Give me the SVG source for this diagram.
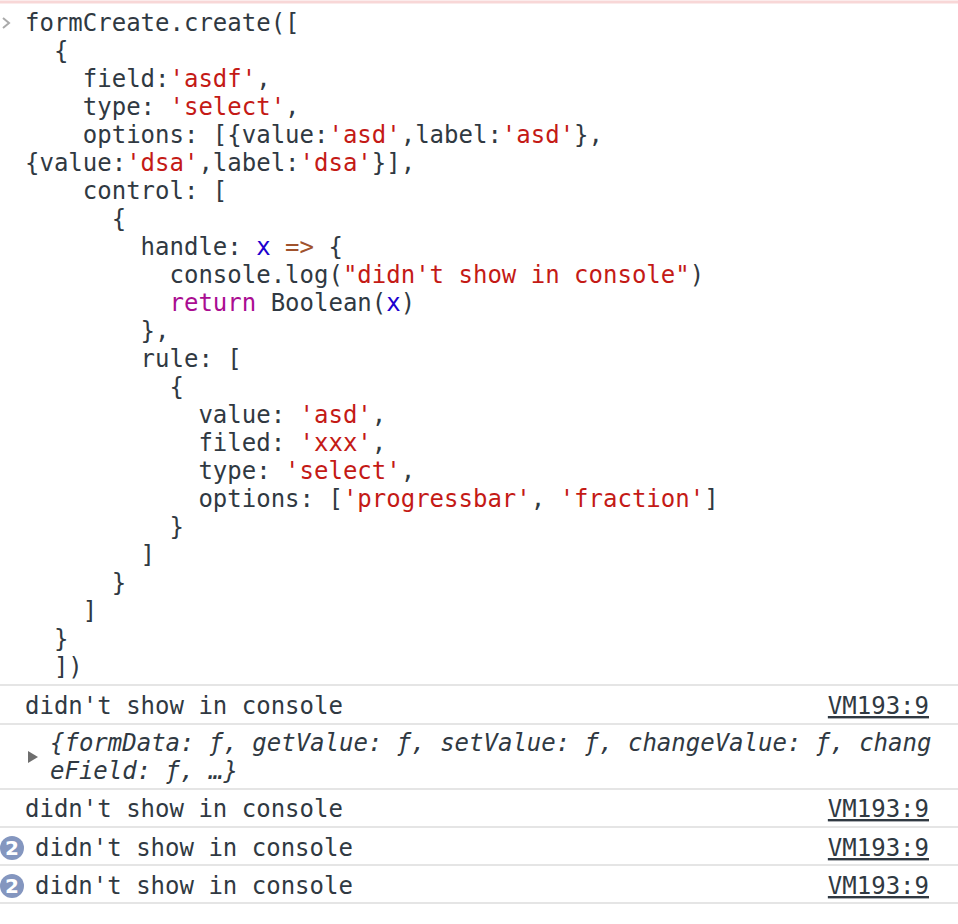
<svg xmlns="http://www.w3.org/2000/svg" width="958" height="924" viewBox="0 0 958 924">
<style>
text{font-family:"DejaVu Sans Mono",monospace;font-size:24px;fill:#303942;white-space:pre}
.s{fill:#c41a16}.k{fill:#aa0d91}.v{fill:#1c00cf}.o{fill:#a0522d}
.sep{stroke:#e5e5e5;stroke-width:2}
.vm{text-anchor:end;text-decoration:underline}
.it{font-style:italic}
.b{fill:#8496bf}.bt{fill:#fff;font-family:"DejaVu Sans",sans-serif;font-size:20px;font-weight:bold;text-anchor:middle}
</style>
<rect width="958" height="924" fill="#fff"/>
<line x1="0" y1="2" x2="958" y2="2" stroke="#f8d7d7" stroke-width="3"/>
<g id="input">
<path d="M3 18 L9 23 L3 28" fill="none" stroke="#aaa" stroke-width="2"/>
<text x="25" y="31">formCreate.create([</text>
<text x="25" y="59">  {</text>
<text x="25" y="87">    field:<tspan class="s">'asdf'</tspan>,</text>
<text x="25" y="115">    type: <tspan class="s">'select'</tspan>,</text>
<text x="25" y="143">    options: [{value:<tspan class="s">'asd'</tspan>,label:<tspan class="s">'asd'</tspan>},</text>
<text x="25" y="171">{value:<tspan class="s">'dsa'</tspan>,label:<tspan class="s">'dsa'</tspan>}],</text>
<text x="25" y="199">    control: [</text>
<text x="25" y="227">      {</text>
<text x="25" y="255">        handle: <tspan class="v">x</tspan> <tspan class="o">=&gt;</tspan> {</text>
<text x="25" y="283">          console.log(<tspan class="s">"didn't show in console"</tspan>)</text>
<text x="25" y="311">          <tspan class="k">return</tspan> Boolean(<tspan class="v">x</tspan>)</text>
<text x="25" y="339">        },</text>
<text x="25" y="367">        rule: [</text>
<text x="25" y="395">          {</text>
<text x="25" y="423">            value: <tspan class="s">'asd'</tspan>,</text>
<text x="25" y="451">            filed: <tspan class="s">'xxx'</tspan>,</text>
<text x="25" y="479">            type: <tspan class="s">'select'</tspan>,</text>
<text x="25" y="507">            options: [<tspan class="s">'progressbar'</tspan>, <tspan class="s">'fraction'</tspan>]</text>
<text x="25" y="535">          }</text>
<text x="25" y="563">        ]</text>
<text x="25" y="591">      }</text>
<text x="25" y="619">    ]</text>
<text x="25" y="647">  }</text>
<text x="25" y="675">  ])</text>
</g>
<g id="separators">
<line class="sep" x1="0" y1="685" x2="958" y2="685"/>
<line class="sep" x1="0" y1="724" x2="958" y2="724"/>
<line class="sep" x1="0" y1="789" x2="958" y2="789"/>
<line class="sep" x1="0" y1="827" x2="958" y2="827"/>
<line class="sep" x1="0" y1="865" x2="958" y2="865"/>
<line class="sep" x1="0" y1="903" x2="958" y2="903"/>
</g>
<g id="out1"><text x="25" y="714">didn't show in console</text><text class="vm" x="929" y="714">VM193:9</text></g>
<g id="out2">
<path d="M28 751 L38 757 L28 763 Z" fill="#6e6e6e"/>
<text class="it" x="50" y="751">{formData: ƒ, getValue: ƒ, setValue: ƒ, changeValue: ƒ, chang</text>
<text class="it" x="50" y="779">eField: ƒ, …}</text>
</g>
<g id="out3"><text x="25" y="817">didn't show in console</text><text class="vm" x="929" y="817">VM193:9</text></g>
<g id="out4"><circle class="b" cx="12" cy="848" r="12"/><text class="bt" x="12" y="855">2</text><text x="35" y="856">didn't show in console</text><text class="vm" x="929" y="856">VM193:9</text></g>
<g id="out5"><circle class="b" cx="12" cy="886" r="12"/><text class="bt" x="12" y="893">2</text><text x="35" y="894">didn't show in console</text><text class="vm" x="929" y="894">VM193:9</text></g>
</svg>
